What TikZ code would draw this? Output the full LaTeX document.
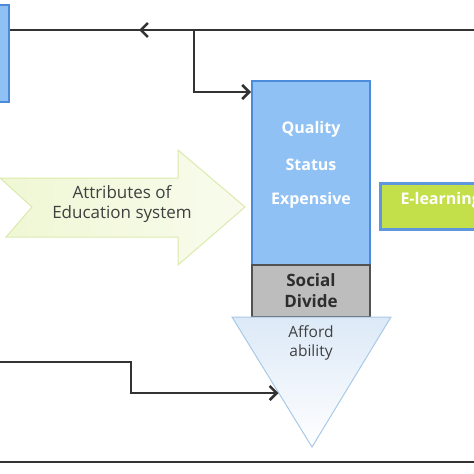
\documentclass[tikz,border=0pt]{standalone}
\usepackage{fontspec}
\setmainfont{Open Sans}
\usetikzlibrary{arrows.meta}
\definecolor{boxblue}{HTML}{8FC1F4}
\definecolor{boxedge}{HTML}{4C8BDA}
\definecolor{linegray}{HTML}{333333}
\definecolor{divgray}{HTML}{BDBDBD}
\definecolor{lime}{HTML}{C3DF4A}
\definecolor{arrowfill}{HTML}{EEF6D2}
\definecolor{arrowedge}{HTML}{DCEAAE}
\definecolor{tritop}{HTML}{DCE9F7}
\definecolor{triedge}{HTML}{A9C9E8}
\definecolor{txtgray}{HTML}{404040}
\tikzset{
  conn/.style={draw=linegray, line width=2.6pt},
  arr/.style={conn, -{Straight Barb[length=7pt,width=14pt,line width=2.6pt]}},
  bluebox/.style={draw=boxedge, fill=boxblue, line width=2pt},
  whitetxt/.style={text=white, font=\fontsize{16}{18}\selectfont\bfseries},
  graytxt/.style={text=txtgray!70!black, font=\fontsize{17}{19}\selectfont\bfseries},
  thintxt/.style={text=txtgray, font=\fontsize{15.5}{18}\selectfont},
}
\begin{document}
\begin{tikzpicture}[x=1pt,y=-1pt]
\useasboundingbox (0,0) rectangle (474,474);
\clip (0,0) rectangle (474,474);
\fill[white] (0,0) rectangle (474,474);
% left blue box
\node[bluebox, minimum width=30pt, minimum height=97pt, inner sep=0pt] (lb) at (-6,53.5) {};
% main blue box
\node[bluebox, minimum width=118pt, minimum height=184pt, inner sep=0pt] (mb) at (311,173) {};
\node[whitetxt] (q) at (311,129) {Quality};
\node[whitetxt] (s) at (311,165) {Status};
\node[whitetxt] (e) at (311,200) {Expensive};
% gray box
\node[draw=linegray!85, fill=divgray, line width=2pt, minimum width=118pt, minimum height=52pt, inner sep=0pt] (gb) at (311,291) {};
\node[graytxt] (soc) at (311,280) {Social};
\node[graytxt] (div) at (311,301) {Divide};
% triangle
\path[top color=tritop, bottom color=white, draw=triedge, line width=1pt] (232,317) -- (391,317) -- (312,447) -- cycle;
\node[thintxt] (aff) at (311,332) {Afford};
\node[thintxt] (abi) at (311,352) {ability};
\coordinate (trin) at (278.5,393);
% green arrow
\path[left color=arrowfill!80!lime!60, right color=arrowfill!40, draw=arrowedge, line width=1pt]
  (0,178) -- (178,178) -- (178,150) -- (245,207) -- (178,265) -- (178,237) -- (6,237) -- (32,207) -- cycle;
\node[text=txtgray, font=\fontsize{17}{19}\selectfont, align=center] (attr) at (122,204) {Attributes of\\[1pt]Education system};
% E-learning
\node[draw=boxedge!90!white, fill=lime, line width=3pt, minimum width=110pt, minimum height=46pt, inner sep=0pt, anchor=west] (el) at (379,206.5) {};
\node[text=white, font=\fontsize{16}{18}\selectfont\bfseries, anchor=west] (elt) at (397,200) {E-learning};
% connectors
\coordinate (tr) at (474,30);
\coordinate (br) at (194,30);
\coordinate (lbe) at (lb.east |- tr);
\coordinate (tip1) at (139,30);
\coordinate (mbin) at (mb.west |- 0,92);
\draw[conn] (tr) -- (lbe);
\draw[arr] (br) -- (tip1);
\draw[arr] (br) |- (mbin);
\coordinate (bl) at (0,362);
\coordinate (bk) at (131,362);
\draw[arr] (bl) -- (bk) |- (trin);
% bottom line
\coordinate (bll) at (0,462);
\coordinate (blr) at (474,462);
\draw[conn] (bll) -- (blr);
\end{tikzpicture}
\end{document}
